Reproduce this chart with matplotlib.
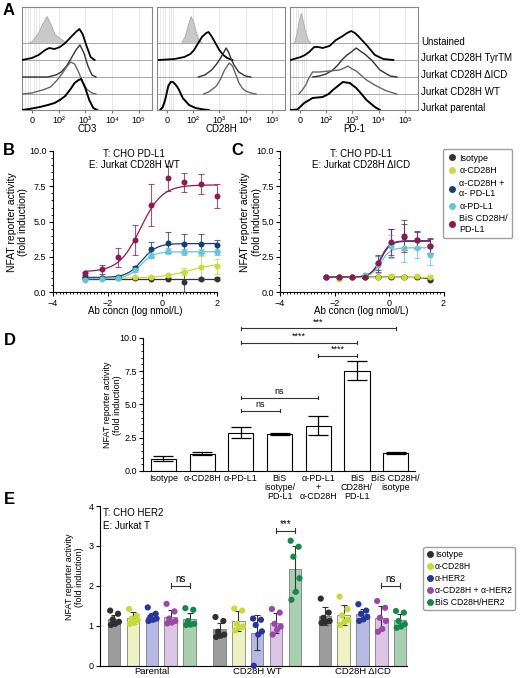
import matplotlib as mpl

mpl.use("Agg")
import matplotlib.pyplot as plt
import numpy as np
from matplotlib.lines import Line2D

plt.rcParams["font.family"] = ["Liberation Sans", "DejaVu Sans"]
plt.rcParams["axes.unicode_minus"] = True

# ---------------- data ----------------
# Panel A: flow histograms, (log-position, height) per row, rows top -> bottom
row_labels = ["Unstained", "Jurkat CD28H TyrTM", "Jurkat CD28H \u0394ICD",
              "Jurkat CD28H WT", "Jurkat parental"]
cd3_curves = [
    ([-0.15, 0.0, 0.2, 0.4, 0.55, 0.7, 0.85, 1.0, 1.15, 1.3], [0, 2, 9, 20, 27, 19, 9, 6, 3, 0]),
    ([-0.37, 0.0, 0.25, 0.5, 0.65, 0.85, 1.05, 1.25, 1.5, 1.65, 1.78, 1.9, 2.05, 2.2, 2.35],
     [0, 2, 5, 10, 12, 11, 13, 17, 24, 28, 31, 26, 14, 3, 0]),
    ([-0.37, 0.6, 0.9, 1.1, 1.3, 1.5, 1.65, 1.8, 1.95, 2.1, 2.25, 2.4],
     [0, 0, 2, 5, 11, 20, 27, 32, 24, 11, 2, 0]),
    ([-0.37, 0.0, 0.4, 0.7, 0.95, 1.15, 1.3, 1.45, 1.6, 1.75, 1.9, 2.05, 2.25, 2.4],
     [0, 1, 4, 7, 14, 21, 27, 32, 30, 22, 12, 5, 1, 0]),
    ([-0.37, -0.1, 0.3, 0.6, 0.85, 1.05, 1.25, 1.45, 1.6, 1.75, 1.85, 2.0, 2.15, 2.3, 2.45],
     [0, 1, 3, 5, 7, 10, 14, 21, 27, 30, 31, 22, 10, 2, 0]),
]
cd28h_curves = [
    ([0.55, 0.7, 0.8, 0.91, 1.0, 1.1, 1.2, 1.35], [0, 8, 18, 27, 22, 12, 4, 0]),
    ([-0.3, 0.3, 0.67, 0.9, 1.04, 1.2, 1.34, 1.5, 1.59, 1.7, 1.85, 2.0, 2.15, 2.3, 2.5],
     [0, 1, 3, 6, 10, 17, 23, 27, 28, 24, 17, 10, 5, 2, 0]),
    ([1.2, 1.45, 1.71, 1.9, 2.05, 2.18, 2.26, 2.35, 2.45, 2.56, 2.74, 2.99, 3.2],
     [0, 2, 7, 13, 19, 25, 29, 25, 18, 12, 5, 1, 0]),
    ([1.4, 1.6, 1.89, 2.05, 2.2, 2.38, 2.5, 2.62, 2.75, 2.87, 3.0, 3.2, 3.4],
     [0, 2, 8, 15, 24, 31, 28, 20, 11, 6, 3, 1, 0]),
    ([-0.25, -0.15, -0.06, 0.06, 0.15, 0.24, 0.35, 0.45, 0.61, 0.85, 1.1, 1.4, 1.6],
     [0, 3, 10, 24, 28, 28, 25, 21, 12, 5, 2, 0.5, 0]),
]
pd1_curves = [
    ([-0.22, -0.12, -0.04, 0.04, 0.12, 0.2, 0.3, 0.42], [0, 10, 22, 30, 22, 12, 4, 0]),
    ([-0.35, 0.04, 0.2, 0.36, 0.55, 0.7, 0.87, 1.13, 1.38, 1.64, 1.8, 1.96, 2.1, 2.22, 2.54, 2.86, 3.18, 3.56],
     [0, 3, 5, 8, 13, 13, 12, 14, 20, 24, 27, 29, 27, 24, 15, 5, 1, 0]),
    ([0.5, 0.74, 1.0, 1.26, 1.45, 1.64, 1.8, 1.96, 2.15, 2.3, 2.47, 2.73, 3.05, 3.44, 3.7],
     [0, 1, 3, 7, 12, 18, 22, 25, 29, 26, 23, 17, 7, 1, 0]),
    ([-0.03, 0.1, 0.23, 0.35, 0.49, 0.74, 1.13, 1.51, 1.7, 1.83, 2.0, 2.15, 2.54, 2.92, 3.31, 3.69],
     [0, 4, 9, 16, 22, 22, 23, 24, 26, 28, 25, 23, 14, 8, 3, 0]),
    ([-0.35, -0.09, 0.17, 0.49, 0.87, 1.1, 1.26, 1.45, 1.64, 1.9, 2.15, 2.35, 2.54, 2.86, 3.05],
     [0, 0.5, 7, 12, 13, 16, 20, 24, 28, 27, 22, 16, 10, 3, 0]),
]
a_markers = ["CD3", "CD28H", "PD-1"]
a_ticklabels = ["0", "10\u00b2", "10\u00b3", "10\u2074", "10\u2075"]

# Panels B/C: dose response (log nmol/L), mean, SD, 4PL fit (bottom, top, logEC50, hill)
bc_series = ["Isotype", "\u03b1-CD28H", "\u03b1-CD28H +\n\u03b1- PD-L1", "\u03b1-PD-L1", "BiS CD28H/\nPD-L1"]
b_x = [-2.82, -2.21, -1.61, -1.01, -0.41, 0.19, 0.79, 1.40, 2.0]
b_isotype = [1.0, 0.98, 0.98, 0.98, 0.97, 0.96, 0.75, 0.96, 0.95]
b_isotype_sd = [0.05, 0.05, 0.05, 0.05, 0.05, 0.05, 0.7, 0.08, 0.1]
b_acd28h = [1.0, 1.0, 1.02, 1.05, 1.1, 1.19, 1.47, 1.76, 1.83]
b_acd28h_sd = [0.05, 0.05, 0.05, 0.05, 0.08, 0.1, 0.25, 0.8, 0.55]
b_combo = [1.05, 1.03, 1.08, 1.70, 3.04, 3.51, 3.45, 3.45, 3.33]
b_combo_sd = [0.05, 0.05, 0.08, 0.15, 0.55, 0.75, 0.65, 0.65, 0.4]
b_apdl1 = [0.9, 0.95, 1.0, 1.55, 2.6, 2.92, 2.85, 2.85, 2.85]
b_apdl1_sd = [0.05, 0.05, 0.05, 0.1, 0.2, 0.2, 0.2, 0.2, 0.2]
b_bis = [1.34, 1.63, 2.48, 3.70, 6.18, 8.07, 7.78, 7.64, 6.84]
b_bis_sd = [0.1, 0.3, 0.68, 1.06, 1.48, 0.9, 0.65, 0.7, 0.85]
b_fits = [(0.97, 0.97, 0.0, 1.0), (1.0, 2.1, 1.0, 0.8), (1.05, 3.45, -0.75, 1.6),
          (0.97, 2.87, -0.8, 1.8), (1.45, 7.6, -0.8, 1.1)]

c_x = [-2.32, -1.84, -1.36, -0.89, -0.41, 0.07, 0.55, 1.02, 1.5]
c_isotype = [1.08, 1.1, 1.07, 1.08, 1.08, 1.08, 1.07, 1.05, 0.9]
c_isotype_sd = [0.05] * 9
c_acd28h = [1.05, 0.95, 1.05, 1.08, 1.1, 1.12, 1.1, 1.12, 1.05]
c_acd28h_sd = [0.05, 0.08, 0.05, 0.05, 0.1, 0.15, 0.15, 0.15, 0.15]
c_combo = [1.08, 1.1, 1.08, 1.1, 2.1, 3.5, 3.9, 3.72, 3.3]
c_combo_sd = [0.05, 0.05, 0.05, 0.1, 0.5, 1.0, 0.9, 0.6, 0.5]
c_apdl1 = [1.08, 1.05, 1.07, 1.25, 1.95, 3.25, 3.12, 3.12, 2.65]
c_apdl1_sd = [0.05, 0.05, 0.05, 0.1, 0.6, 0.8, 1.0, 0.7, 0.7]
c_bis = [1.08, 1.08, 1.08, 1.1, 2.05, 3.55, 4.0, 3.7, 3.28]
c_bis_sd = [0.05, 0.05, 0.05, 0.1, 0.6, 0.9, 1.15, 0.6, 0.55]
c_fits = [(1.08, 0.95, 1.2, 2.0), (1.08, 1.08, 0.0, 1.0), (1.08, 3.62, -0.3, 2.5),
          (1.08, 3.15, -0.3, 2.5), (1.08, 3.65, -0.32, 2.5)]
bc_colors = ["#333333", "#c8da3e", "#1b3d6d", "#66c6d8", "#8c1a50"]

# Panel D: bars
d_labels = ["Isotype", "\u03b1-CD28H", "\u03b1-PD-L1", "BiS\nisotype/\nPD-L1",
            "\u03b1-PD-L1\n+\n\u03b1-CD28H", "BiS\nCD28H/\nPD-L1", "BiS CD28H/\nisotype"]
d_means = [0.93, 1.3, 2.88, 2.78, 3.4, 7.53, 1.32]
d_sd = [0.18, 0.1, 0.4, 0.07, 0.7, 0.7, 0.08]
d_sig = [(2, 3, 4.53, "ns"), (2, 4, 5.5, "ns"), (4, 5, 8.65, "****"),
         (2, 5, 9.63, "****"), (2, 6, 10.7, "***")]

# Panel E: grouped bars with replicates
e_groups = ["Parental", "CD28H WT", "CD28H \u0394ICD"]
e_treatments = ["Isotype", "\u03b1-CD28H", "\u03b1-HER2", "\u03b1-CD28H + \u03b1-HER2", "BiS CD28H/HER2"]
e_means = [[1.16, 1.19, 1.23, 1.23, 1.17],
           [0.91, 1.12, 0.83, 1.08, 2.42],
           [1.24, 1.28, 1.29, 1.20, 1.14]]
e_sd = [[0.12, 0.15, 0.1, 0.16, 0.14],
        [0.17, 0.25, 0.43, 0.25, 0.58],
        [0.22, 0.25, 0.12, 0.3, 0.15]]
e_parental = [[1.38, 1.30, 1.16, 1.10, 1.05, 1.02], [1.42, 1.25, 1.18, 1.14, 1.08, 1.05],
              [1.46, 1.30, 1.22, 1.18, 1.15, 1.12], [1.55, 1.36, 1.18, 1.12, 1.08, 1.06],
              [1.44, 1.40, 1.12, 1.05, 1.03, 1.02]]
e_wt = [[1.22, 1.12, 0.85, 0.78, 0.75, 0.72], [1.43, 1.38, 1.05, 0.98, 0.95, 0.88],
        [1.18, 1.15, 1.02, 0.86, 0.78, 0.0], [1.42, 1.33, 1.05, 0.98, 0.90, 0.78],
        [3.13, 2.98, 2.73, 2.19, 1.85, 1.65]]
e_dicd = [[1.68, 1.33, 1.20, 1.12, 1.10, 1.07], [1.73, 1.42, 1.26, 1.15, 1.10, 1.02],
          [1.54, 1.38, 1.30, 1.22, 1.16, 1.12], [1.62, 1.45, 1.20, 1.12, 0.92, 0.85],
          [1.37, 1.33, 1.12, 1.04, 0.98, 0.95]]
e_sig = [(0, 2.0, "ns"), (1, 3.38, "***"), (2, 2.0, "ns")]
e_face = ["#9c9c9c", "#eef2c2", "#b6b9e4", "#dcc4e6", "#a9cfb1"]
e_dot = ["#2f2f2f", "#c6da3a", "#28359b", "#9a48a8", "#16874a"]

# ---------------- layout helpers ----------------
W, H = 520, 678
fig = plt.figure(figsize=(W / 100, H / 100), dpi=100)


def add_ax(left, top, right, bottom):
    return fig.add_axes([left / W, 1 - bottom / H, (right - left) / W, (bottom - top) / H])


def ftext(x, y, s, **kw):
    fig.text(x / W, 1 - y / H, s, **kw)


def style_prism(ax):
    for side in ("top", "right"):
        ax.spines[side].set_visible(False)
    for side in ("left", "bottom"):
        ax.spines[side].set_linewidth(0.8)
    ax.tick_params(labelsize=6.5, width=0.8, length=3, pad=1.5)


def four_pl(x, bottom, top, logec50, hill):
    return bottom + (top - bottom) / (1 + 10 ** ((logec50 - x) * hill))


# ---------------- panel A ----------------
baselines = [67, 50, 33, 16, 0]
line_styles = [None, ("black", 1.3), ("#333333", 1.0), ("#666666", 1.0), ("black", 1.4)]
a_boxes = [(22, 152), (157, 285), (290, 418)]
for (l, r), curves, marker in zip(a_boxes, [cd3_curves, cd28h_curves, pd1_curves], a_markers):
    ax = add_ax(l, 7, r, 110)
    ax.set_xlim(-0.37, 4.5)
    ax.set_ylim(0, 103)
    for xv in [-0.25, -0.15, -0.07, 0.07, 0.15, 0.25, 1, 2, 3, 4]:
        ax.axvline(xv, color="#dddddd", lw=0.5, zorder=0)
    for base in baselines[:-1]:
        ax.axhline(base, color="#999999", lw=0.6, zorder=1)
    for i, (u, h) in enumerate(curves):
        base = baselines[i]
        y = base + np.asarray(h, dtype=float)
        if i == 0:
            ax.fill_between(u, base, y, color="#c9c9c9", edgecolor="#a0a0a0", lw=0.5, zorder=2)
        else:
            col, lw = line_styles[i]
            ax.plot(u, y, color=col, lw=lw, zorder=3)
    ax.set_yticks([])
    ax.set_xticks(range(5))
    ax.set_xticklabels(a_ticklabels)
    ax.tick_params(axis="x", labelsize=6.5, length=2, pad=2, color="#777777")
    for sp in ax.spines.values():
        sp.set_color("#888888")
        sp.set_linewidth(0.8)
    ftext((l + r) / 2, 129, marker, ha="center", va="center", fontsize=7)

for lab, y in zip(row_labels, [42, 58, 75, 92, 108]):
    ftext(421, y, lab, ha="left", va="center", fontsize=7)

# ---------------- panels B and C ----------------
b_means = [b_isotype, b_acd28h, b_combo, b_apdl1, b_bis]
b_sds = [b_isotype_sd, b_acd28h_sd, b_combo_sd, b_apdl1_sd, b_bis_sd]
c_means = [c_isotype, c_acd28h, c_combo, c_apdl1, c_bis]
c_sds = [c_isotype_sd, c_acd28h_sd, c_combo_sd, c_apdl1_sd, c_bis_sd]

for (l, r), xs, means, sds, fits, sub in [
        ((52.7, 217.3), b_x, b_means, b_sds, b_fits, "E: Jurkat CD28H WT"),
        ((280, 443.5), c_x, c_means, c_sds, c_fits, "E: Jurkat CD28H \u0394ICD")]:
    ax = add_ax(l, 151, r, 292.3)
    style_prism(ax)
    ax.set_xlim(-4, 2)
    ax.set_ylim(0, 10)
    ax.set_xticks([-4, -2, 0, 2])
    ax.set_yticks([0, 2.5, 5, 7.5, 10])
    ax.set_yticklabels(["0.0", "2.5", "5.0", "7.5", "10.0"])
    ax.xaxis.set_minor_locator(mpl.ticker.MultipleLocator(0.125))
    ax.yaxis.set_minor_locator(mpl.ticker.MultipleLocator(0.5))
    ax.tick_params(which="minor", length=1.5, width=0.6)
    xs = np.asarray(xs)
    xx = np.linspace(xs.min(), xs.max(), 200)
    for m, s, fit, col in zip(means, sds, fits, bc_colors):
        ax.plot(xx, four_pl(xx, *fit), color=col, lw=0.9, zorder=2)
        ax.errorbar(xs, m, yerr=s, fmt="none", ecolor=col, elinewidth=0.8, capsize=2,
                    capthick=0.8, alpha=0.75, zorder=3, clip_on=False)
        ax.plot(xs, m, "o", color=col, ms=4.3, mew=0, zorder=4, clip_on=False)
    ftext((l + r) / 2 - 1, 154, "T: CHO PD-L1", ha="center", va="center", fontsize=7)
    ftext((l + r) / 2 - 1, 165, sub, ha="center", va="center", fontsize=7)
    ftext((l + r) / 2, 311, "Ab concn (log nmol/L)", ha="center", va="center", fontsize=7)

ftext(17.5, 222, "NFAT reporter activity\n(fold induction)", ha="center", va="center",
      rotation=90, fontsize=7.5, linespacing=1.2)
ftext(251, 222, "NFAT reporter activity\n(fold induction)", ha="center", va="center",
      rotation=90, fontsize=7.5, linespacing=1.2)

c_handles = [Line2D([], [], marker="o", ls="", color=c, ms=5, mew=0) for c in bc_colors]
fig.legend(c_handles, bc_series, loc="upper left", bbox_to_anchor=(443 / W, 1 - 149 / H),
           fontsize=6.5, frameon=True, fancybox=True, edgecolor="#888888",
           handletextpad=0.3, handlelength=1.0, borderpad=0.5, labelspacing=0.4,
           borderaxespad=0)

# ---------------- panel D ----------------
axD = add_ax(143.3, 337.7, 415, 471)
style_prism(axD)
xd = np.arange(len(d_means))
axD.bar(xd, d_means, width=0.65, color="white", edgecolor="black", lw=0.8)
axD.errorbar(xd, d_means, yerr=d_sd, fmt="none", ecolor="black", elinewidth=0.9,
             capsize=7, capthick=0.9)
axD.set_xlim(-0.52, 6.5)
axD.set_ylim(0, 10)
axD.set_yticks([0, 2.5, 5, 7.5, 10])
axD.set_yticklabels(["0.0", "2.5", "5.0", "7.5", "10.0"])
axD.yaxis.set_minor_locator(mpl.ticker.MultipleLocator(0.5))
axD.tick_params(axis="y", which="minor", length=1.5, width=0.6)
axD.set_xticks(xd)
axD.set_xticklabels(d_labels, fontsize=6.5, linespacing=1.05, va="top")
axD.tick_params(axis="x", length=0, pad=2)
for i, j, y, txt in d_sig:
    axD.plot([i, j], [y, y], color="#333333", lw=0.8, clip_on=False)
    for xe in (i, j):
        axD.plot([xe, xe], [y - 0.13, y + 0.13], color="#333333", lw=0.8, clip_on=False)
    axD.text((i + j) / 2, y + 0.15, txt, ha="center", va="bottom", fontsize=6.5)
ftext(112.5, 405, "NFAT reporter activity\n(fold induction)", ha="center", va="center",
      rotation=90, fontsize=6.5, linespacing=1.2)

# ---------------- panel E ----------------
axE = add_ax(100, 506, 406.7, 665.7)
style_prism(axE)
group_step = 5.6
jitter = [-0.22, 0.2, -0.08, 0.25, 0.05, -0.18]
e_reps = [e_parental, e_wt, e_dicd]
for g in range(3):
    for t in range(5):
        xc = g * group_step + t
        axE.bar(xc, e_means[g][t], width=0.66, color=e_face[t], edgecolor="#6a6a6a",
                lw=0.5, zorder=1)
        axE.errorbar(xc, e_means[g][t], yerr=e_sd[g][t], fmt="none", ecolor="#333333",
                     elinewidth=0.8, capsize=2.5, capthick=0.8, zorder=2)
        axE.scatter(xc + np.asarray(jitter), e_reps[g][t], s=20, color=e_dot[t],
                    edgecolors="none", zorder=3, clip_on=False)
for g, y, txt in e_sig:
    x0, x1 = g * group_step + 3, g * group_step + 4
    axE.plot([x0, x1], [y, y], color="#333333", lw=0.8)
    for xe in (x0, x1):
        axE.plot([xe, xe], [y - 0.06, y + 0.06], color="#333333", lw=0.8)
    axE.text((x0 + x1) / 2, y + 0.05, txt, ha="center", va="bottom", fontsize=7)
axE.set_xlim(-0.76, 15.55)
axE.set_ylim(0, 4)
axE.set_yticks([0, 1, 2, 3, 4])
axE.set_xticks([g * group_step + 2 for g in range(3)])
axE.set_xticklabels(e_groups, fontsize=6.8)
axE.tick_params(axis="x", length=0, pad=1)
axE.text(0.01, 0.985, "T: CHO HER2\nE: Jurkat T", transform=axE.transAxes, ha="left",
         va="top", fontsize=7, linespacing=1.35)
ftext(74.5, 577, "NFAT reporter activity\n(fold induction)", ha="center", va="center",
      rotation=90, fontsize=6.5, linespacing=1.2)
e_handles = [Line2D([], [], marker="o", ls="", color=c, ms=5, mew=0) for c in e_dot]
fig.legend(e_handles, e_treatments, loc="upper left", bbox_to_anchor=(423 / W, 1 - 547 / H),
           fontsize=6.2, frameon=True, fancybox=True, edgecolor="#888888",
           handletextpad=0.15, handlelength=0.9, borderpad=0.35, labelspacing=0.35,
           borderaxespad=0)

# ---------------- panel letters ----------------
for letter, x, y in [("A", 3, 3), ("B", 3, 143), ("C", 231, 143), ("D", 4, 333), ("E", 4, 492)]:
    ftext(x, y, letter, ha="left", va="top", fontsize=12, fontweight="bold")

fig.savefig("out.png", dpi=100)
plt.close(fig)
